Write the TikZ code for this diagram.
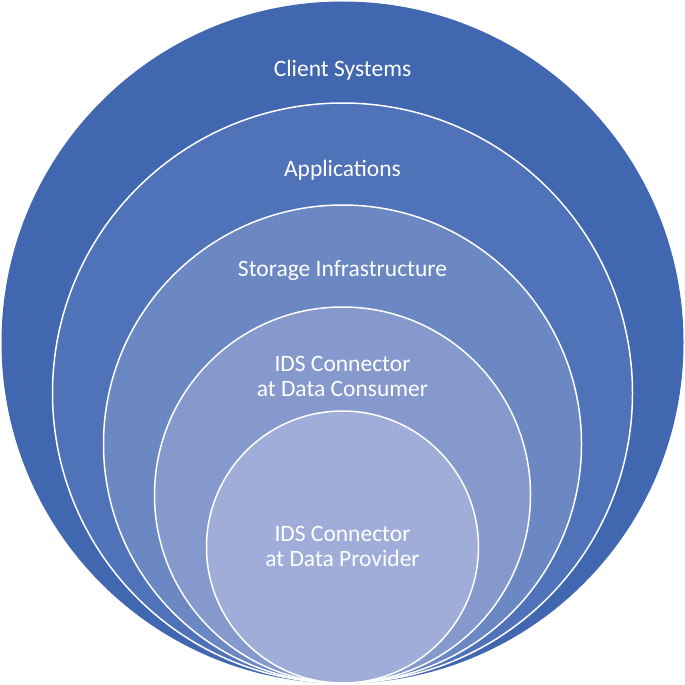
\documentclass[tikz,border=0pt]{standalone}
\usepackage{fontspec}
\setmainfont{Carlito}
\definecolor{c1}{HTML}{4167B0}
\definecolor{c2}{HTML}{5072B8}
\definecolor{c3}{HTML}{6B88C2}
\definecolor{c4}{HTML}{8599CC}
\definecolor{c5}{HTML}{A0ADD8}
\begin{document}
\begin{tikzpicture}[x=1pt,y=-1pt,
  ring/.style={draw=white,line width=1.5pt},
  lbl/.style={text=white,font=\fontsize{23.5}{25}\selectfont,align=center}]
\useasboundingbox (0,0) rectangle (685,685);
\fill[c1] (342.5,342.5) circle (341);
\path[ring,fill=c2] (342.5,393) circle (290);
\path[ring,fill=c3] (342.5,444) circle (239);
\path[ring,fill=c4] (342.5,495) circle (188);
\path[ring,fill=c5] (342.5,547) circle (136);
\node[lbl] (t1) at (342.5,70) {Client Systems};
\node[lbl] (t2) at (342.5,170) {Applications};
\node[lbl] (t3) at (342.5,270) {Storage Infrastructure};
\node[lbl] (t4) at (342.5,376) {IDS Connector\\at Data Consumer};
\node[lbl] (t5) at (342.5,546) {IDS Connector\\at Data Provider};
\end{tikzpicture}
\end{document}
